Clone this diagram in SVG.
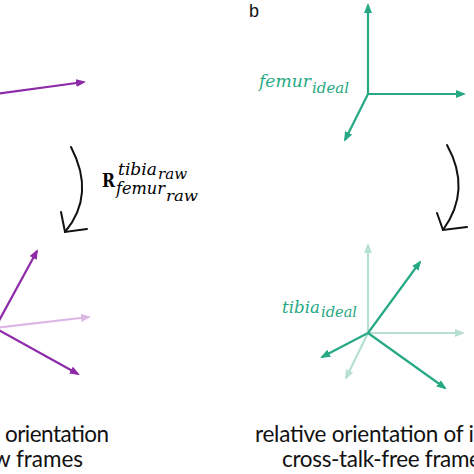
<svg xmlns="http://www.w3.org/2000/svg" width="474" height="474" viewBox="0 0 474 474">
<style>
.p{stroke:#8d2aa8;stroke-width:2.2;fill:none}
.pl{stroke:#dcb6e5;stroke-width:2.2;fill:none}
.g{stroke:#27a985;stroke-width:2.2;fill:none}
.gl{stroke:#b7e0d3;stroke-width:2.2;fill:none}
.k{stroke:#111;stroke-width:2;fill:none;stroke-linecap:round;stroke-linejoin:miter}
.mi{font-family:"DejaVu Serif","Liberation Serif",serif;font-style:italic}
.rb{font-family:"DejaVu Serif","Liberation Serif",serif;font-weight:bold}
.cap{font-family:Lato,"Open Sans","Liberation Sans",sans-serif;font-size:22.5px;fill:#111}
</style>
<defs>
<marker id="mp" viewBox="0 0 10 8" refX="8" refY="4" markerWidth="10" markerHeight="8" markerUnits="userSpaceOnUse" orient="auto"><path d="M0,0L10,4L0,8z" fill="#8d2aa8"/></marker>
<marker id="mpl" viewBox="0 0 10 8" refX="8" refY="4" markerWidth="10" markerHeight="8" markerUnits="userSpaceOnUse" orient="auto"><path d="M0,0L10,4L0,8z" fill="#dcb6e5"/></marker>
<marker id="mg" viewBox="0 0 10 8" refX="8" refY="4" markerWidth="10" markerHeight="8" markerUnits="userSpaceOnUse" orient="auto"><path d="M0,0L10,4L0,8z" fill="#27a985"/></marker>
<marker id="mgl" viewBox="0 0 10 8" refX="8" refY="4" markerWidth="10" markerHeight="8" markerUnits="userSpaceOnUse" orient="auto"><path d="M0,0L10,4L0,8z" fill="#b7e0d3"/></marker>
</defs>
<rect width="474" height="474" fill="#fff"/>

<g id="femur-raw-frame">
<line class="p" x1="-5" y1="94" x2="84" y2="82" marker-end="url(#mp)"/>
</g>

<g id="tibia-raw-frame">
<line class="pl" x1="-5" y1="328" x2="89" y2="317" marker-end="url(#mpl)"/>
<line class="p" x1="-5" y1="328" x2="37" y2="251" marker-end="url(#mp)"/>
<line class="p" x1="-5" y1="328" x2="78" y2="374" marker-end="url(#mp)"/>
</g>

<g id="rotation-label">
<text class="rb" x="102" y="187" font-size="19" textLength="13" lengthAdjust="spacingAndGlyphs">R</text>
<text class="mi" x="118" y="175" font-size="16.5" textLength="39" lengthAdjust="spacingAndGlyphs">tibia</text>
<text class="mi" x="158" y="179" font-size="14" textLength="29" lengthAdjust="spacingAndGlyphs">raw</text>
<text class="mi" x="116" y="194" font-size="16.5" textLength="49" lengthAdjust="spacingAndGlyphs">femur</text>
<text class="mi" x="166" y="201" font-size="14" textLength="32" lengthAdjust="spacingAndGlyphs">raw</text>
</g>

<g id="panel-b-label">
<text x="249" y="17" font-family="'Liberation Sans',Arial,sans-serif" font-size="18" fill="#111">b</text>
</g>

<g id="femur-ideal-frame">
<line class="g" x1="368" y1="94" x2="368" y2="5" marker-end="url(#mg)"/>
<line class="g" x1="368" y1="94" x2="464" y2="94" marker-end="url(#mg)"/>
<line class="g" x1="368" y1="94" x2="345" y2="140" marker-end="url(#mg)"/>
<text class="mi" x="259" y="87" font-size="17.5" fill="#27a985" textLength="52" lengthAdjust="spacingAndGlyphs">femur</text>
<text class="mi" x="312" y="93" font-size="14" fill="#27a985" textLength="37" lengthAdjust="spacingAndGlyphs">ideal</text>
</g>

<g id="tibia-ideal-frame">
<line class="gl" x1="368" y1="333" x2="368" y2="245" marker-end="url(#mgl)"/>
<line class="gl" x1="368" y1="333" x2="463" y2="333" marker-end="url(#mgl)"/>
<line class="gl" x1="368" y1="333" x2="346" y2="378" marker-end="url(#mgl)"/>
<line class="g" x1="368" y1="333" x2="420" y2="262" marker-end="url(#mg)"/>
<line class="g" x1="368" y1="333" x2="322" y2="357" marker-end="url(#mg)"/>
<line class="g" x1="368" y1="333" x2="445" y2="388" marker-end="url(#mg)"/>
<text class="mi" x="282" y="313" font-size="17.5" fill="#27a985" textLength="38" lengthAdjust="spacingAndGlyphs">tibia</text>
<text class="mi" x="321" y="317" font-size="14" fill="#27a985" textLength="36" lengthAdjust="spacingAndGlyphs">ideal</text>
</g>

<g id="connectors">
<path class="k" d="M71,147 Q96,195 65,232"/>
<path class="k" d="M61,212 L65,232 L87,229"/>
<path class="k" d="M447,145 Q472,190 443,230"/>
<path class="k" d="M437,213 L443,230 L467,227"/>
</g>

<g id="captions">
<text class="cap" x="5" y="442" textLength="104">orientation</text>
<text class="cap" x="-7" y="467" textLength="90">w frames</text>
<text class="cap" x="255" y="442" textLength="219">relative orientation of i</text>
<text class="cap" x="282" y="467" textLength="199">cross-talk-free frame</text>
</g>
</svg>
